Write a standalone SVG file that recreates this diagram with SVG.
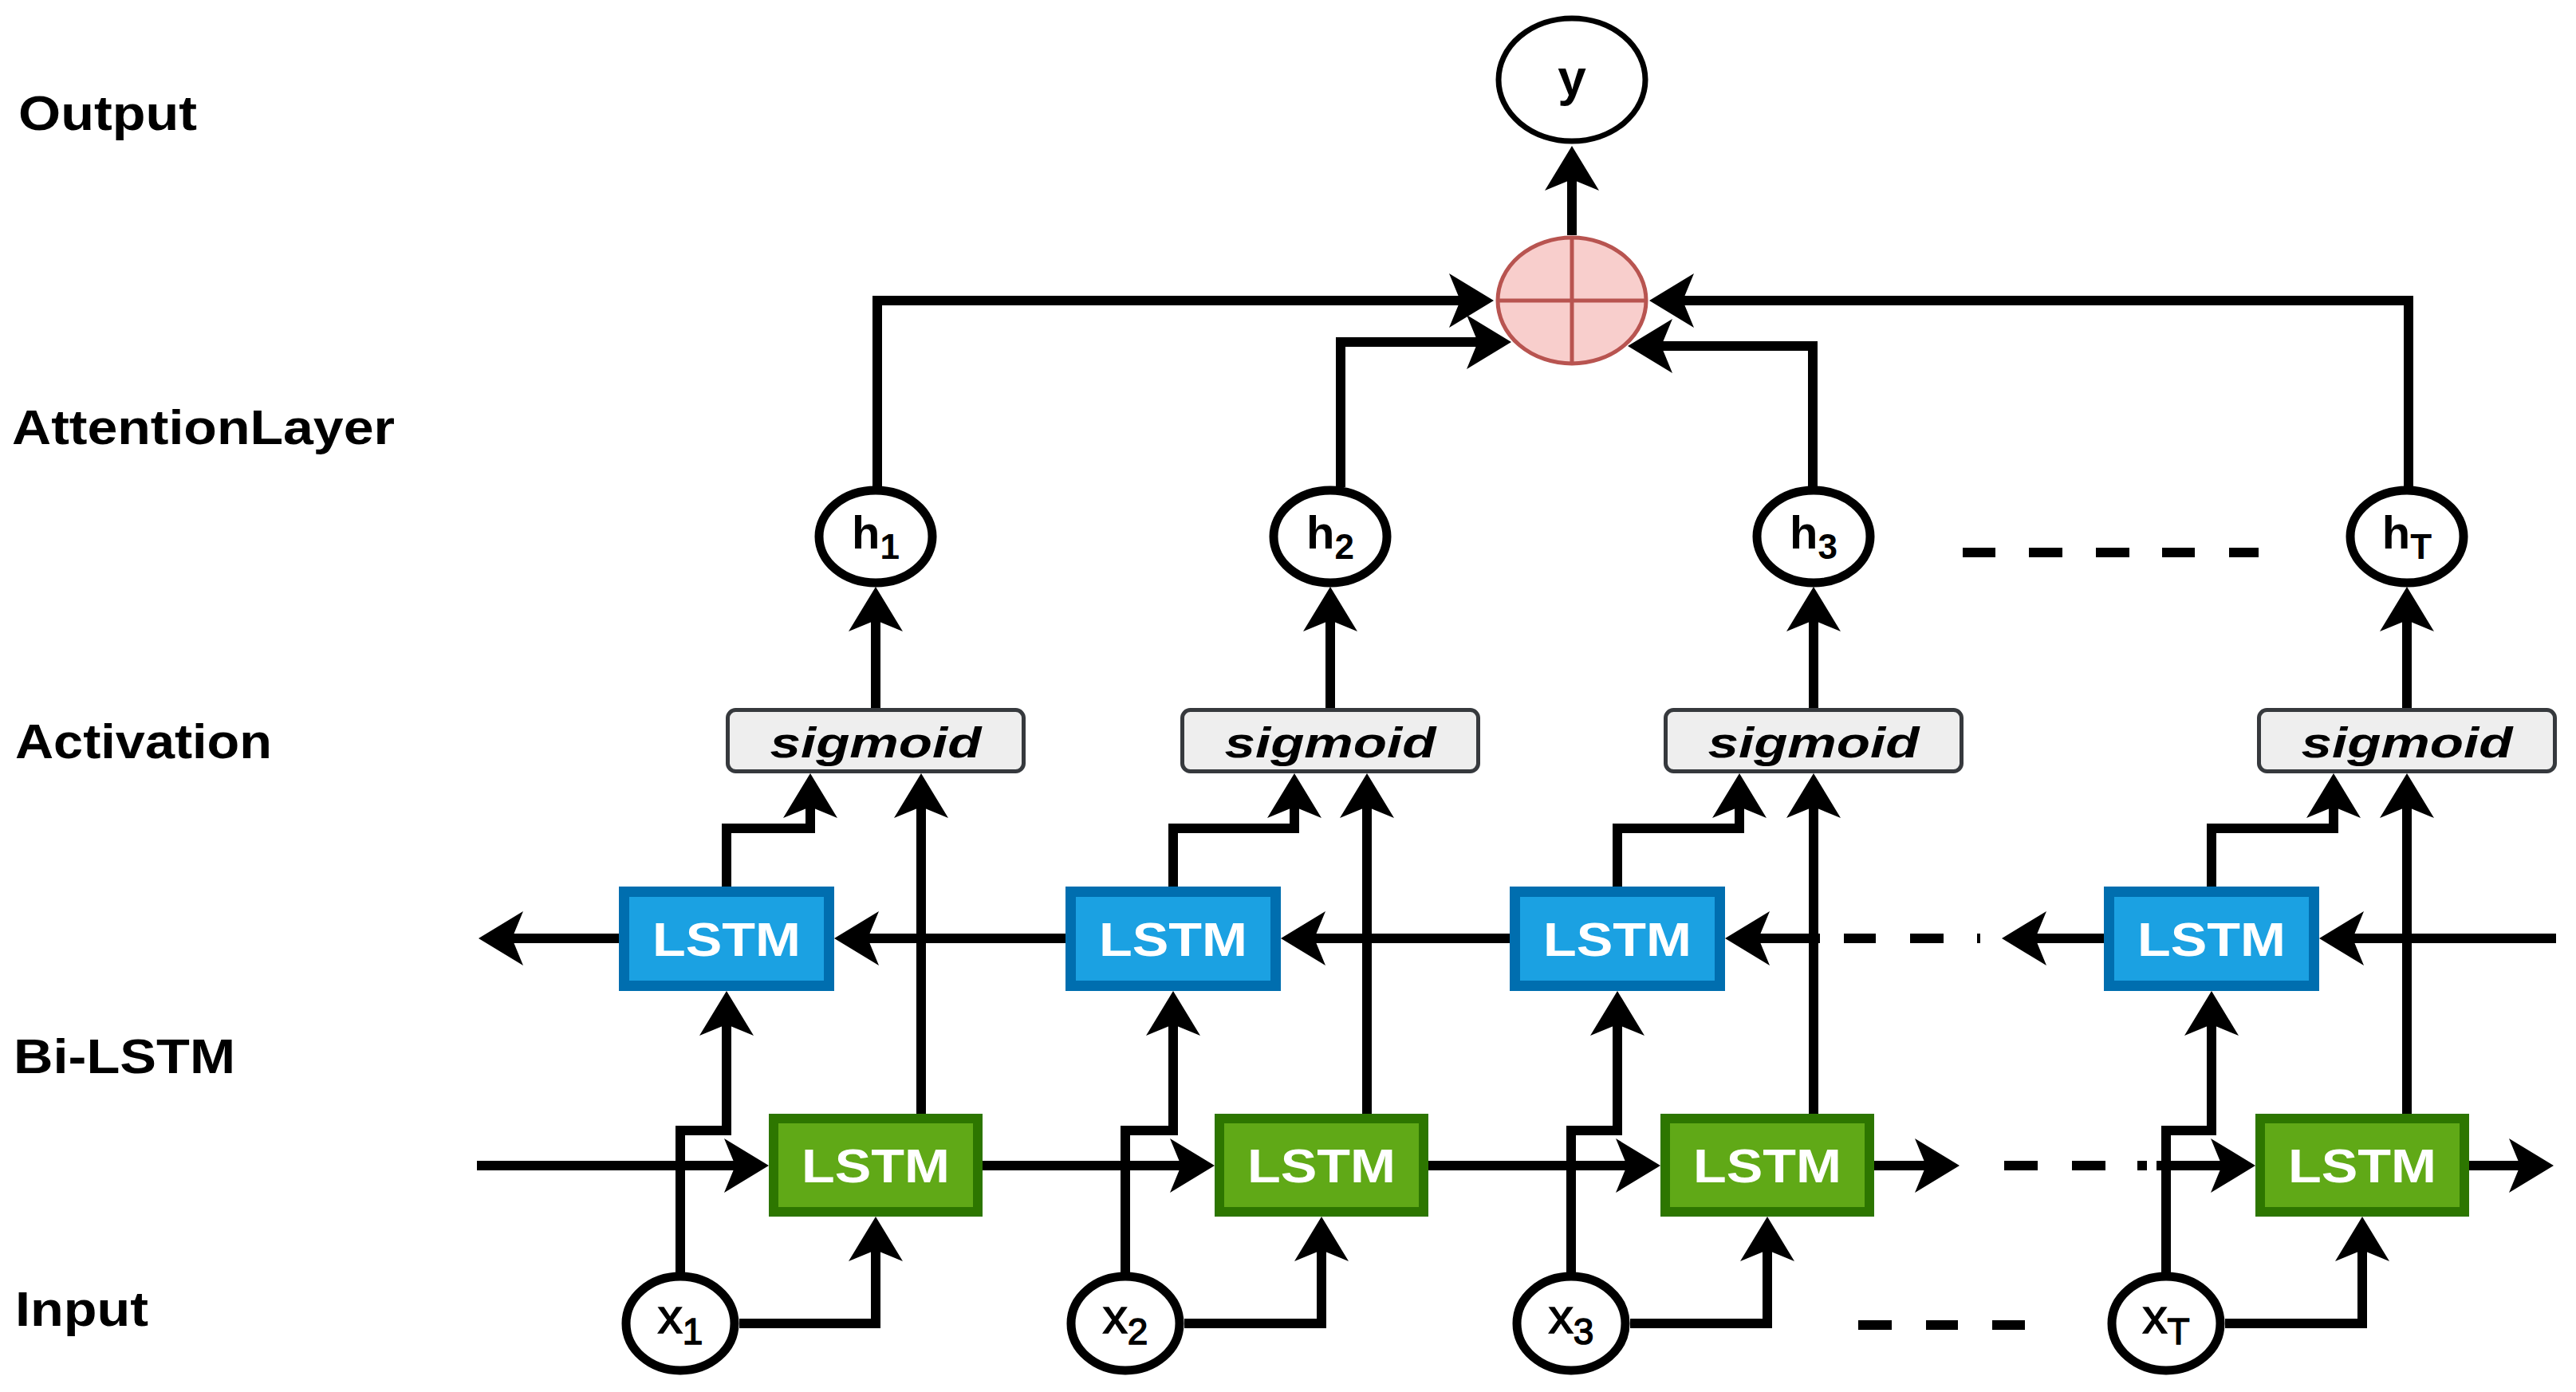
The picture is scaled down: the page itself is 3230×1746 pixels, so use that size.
<svg xmlns="http://www.w3.org/2000/svg" width="3230" height="1746" viewBox="0 0 3230 1746">
<style>
.lbl{font-family:"Liberation Sans",Arial,sans-serif;font-weight:bold;font-size:62px;fill:#000}
.con{fill:none;stroke:#000;stroke-width:12;stroke-linejoin:miter}
.dash{stroke:#000;stroke-width:12}
.blue{fill:#1ba1e2;stroke:#006eaf;stroke-width:13}
.green{fill:#60a917;stroke:#2d7600;stroke-width:12}
.lstm{font-family:"Liberation Sans",Arial,sans-serif;font-weight:bold;font-size:60px;fill:#fff;text-anchor:middle}
.sig{fill:#eeeeee;stroke:#36393d;stroke-width:5}
.sigt{font-family:"Liberation Sans",Arial,sans-serif;font-weight:bold;font-style:italic;font-size:54px;fill:#000;text-anchor:middle}
.circ{fill:#fff;stroke:#000;stroke-width:11}
.ht{font-family:"Liberation Sans",Arial,sans-serif;font-weight:bold;font-size:58px;fill:#000;text-anchor:middle}
.xt{font-family:"Liberation Sans",Arial,sans-serif;font-size:62px;fill:#000;text-anchor:middle;stroke:#000;stroke-width:1.5}
</style>
<defs>
<marker id="ah" markerUnits="userSpaceOnUse" markerWidth="120" markerHeight="120" viewBox="-60 -60 120 120" refX="0" refY="0" orient="auto">
<path d="M30,0 L-26,-34 L-12,0 L-26,34 Z" fill="#000"/>
</marker>
</defs>
<rect width="3230" height="1746" fill="#fff"/>

<g id="layer-labels">
<text class="lbl" x="23" y="163" textLength="224" lengthAdjust="spacingAndGlyphs">Output</text>
<text class="lbl" x="15" y="557" textLength="480" lengthAdjust="spacingAndGlyphs">AttentionLayer</text>
<text class="lbl" x="19" y="951" textLength="322" lengthAdjust="spacingAndGlyphs">Activation</text>
<text class="lbl" x="17" y="1346" textLength="278" lengthAdjust="spacingAndGlyphs">Bi-LSTM</text>
<text class="lbl" x="19" y="1663" textLength="167" lengthAdjust="spacingAndGlyphs">Input</text>
</g>

<g id="connectors">
<path class="con" marker-end="url(#ah)" d="M1971,295 V213"/>
<path class="con" marker-end="url(#ah)" d="M1100,611 V377 H1843"/>
<path class="con" marker-end="url(#ah)" d="M1681,611 V429 H1865"/>
<path class="con" marker-end="url(#ah)" d="M2273,611 V434 H2071"/>
<path class="con" marker-end="url(#ah)" d="M3020,611 V377 H2098"/>

<path class="con" marker-end="url(#ah)" d="M1098,888 V766"/>
<path class="con" marker-end="url(#ah)" d="M1668,888 V766"/>
<path class="con" marker-end="url(#ah)" d="M2274,888 V766"/>
<path class="con" marker-end="url(#ah)" d="M3018,888 V766"/>

<path class="con" marker-end="url(#ah)" d="M911,1112 V1039 H1016 V1000"/>
<path class="con" marker-end="url(#ah)" d="M1471,1112 V1039 H1623 V1000"/>
<path class="con" marker-end="url(#ah)" d="M2028,1112 V1039 H2181 V1000"/>
<path class="con" marker-end="url(#ah)" d="M2773,1112 V1039 H2926 V1000"/>

<path class="con" marker-end="url(#ah)" d="M1155,1397 V1000"/>
<path class="con" marker-end="url(#ah)" d="M1714,1397 V1000"/>
<path class="con" marker-end="url(#ah)" d="M2274,1397 V1000"/>
<path class="con" marker-end="url(#ah)" d="M3018,1397 V1000"/>

<path class="con" marker-end="url(#ah)" d="M853,1596 V1418 H911 V1273"/>
<path class="con" marker-end="url(#ah)" d="M1411,1596 V1418 H1471 V1273"/>
<path class="con" marker-end="url(#ah)" d="M1970,1596 V1418 H2028 V1273"/>
<path class="con" marker-end="url(#ah)" d="M2716,1596 V1418 H2773 V1273"/>

<path class="con" marker-end="url(#ah)" d="M927,1660 H1098 V1556"/>
<path class="con" marker-end="url(#ah)" d="M1485,1660 H1657 V1556"/>
<path class="con" marker-end="url(#ah)" d="M2044,1660 H2216 V1556"/>
<path class="con" marker-end="url(#ah)" d="M2790,1660 H2962 V1556"/>

<path class="con" marker-end="url(#ah)" d="M598,1462 H934"/>
<path class="con" marker-end="url(#ah)" d="M1232,1462 H1493"/>
<path class="con" marker-end="url(#ah)" d="M1791,1462 H2052"/>
<path class="con" marker-end="url(#ah)" d="M2350,1462 H2427"/>
<line class="dash" x1="2513" y1="1462" x2="2555" y2="1462"/>
<line class="dash" x1="2598" y1="1462" x2="2640" y2="1462"/>
<line class="dash" x1="2680" y1="1462" x2="2692" y2="1462"/>
<path class="con" marker-end="url(#ah)" d="M2704,1462 H2798"/>
<path class="con" marker-end="url(#ah)" d="M3096,1462 H3172"/>

<path class="con" marker-end="url(#ah)" d="M776,1177 H630"/>
<path class="con" marker-end="url(#ah)" d="M1336,1177 H1076"/>
<path class="con" marker-end="url(#ah)" d="M1893,1177 H1636"/>
<path class="con" marker-end="url(#ah)" d="M2282,1177 H2193"/>
<line class="dash" x1="2312" y1="1177" x2="2352" y2="1177"/>
<line class="dash" x1="2395" y1="1177" x2="2437" y2="1177"/>
<line class="dash" x1="2479" y1="1177" x2="2483" y2="1177"/>
<path class="con" marker-end="url(#ah)" d="M2638,1177 H2540"/>
<path class="con" marker-end="url(#ah)" d="M3205,1177 H2938"/>

<line class="dash" x1="2461" y1="693" x2="2502" y2="693"/>
<line class="dash" x1="2544" y1="693" x2="2586" y2="693"/>
<line class="dash" x1="2628" y1="693" x2="2670" y2="693"/>
<line class="dash" x1="2711" y1="693" x2="2752" y2="693"/>
<line class="dash" x1="2795" y1="693" x2="2832" y2="693"/>

<line class="dash" x1="2330" y1="1662" x2="2372" y2="1662"/>
<line class="dash" x1="2415" y1="1662" x2="2455" y2="1662"/>
<line class="dash" x1="2498" y1="1662" x2="2539" y2="1662"/>
</g>

<g id="node-y">
<ellipse cx="1971" cy="100" rx="92" ry="77" fill="#fff" stroke="#000" stroke-width="7"/>
<text x="1971" y="120" font-family="Liberation Sans, Arial, sans-serif" font-weight="bold" font-size="64" text-anchor="middle">y</text>
</g>
<g id="node-sum">
<ellipse cx="1971" cy="377" rx="93" ry="79" fill="#f8cecc" stroke="#b85450" stroke-width="5"/>
<line x1="1878" y1="377" x2="2064" y2="377" stroke="#b85450" stroke-width="5"/>
<line x1="1971" y1="298" x2="1971" y2="456" stroke="#b85450" stroke-width="5"/>
</g>

<g id="node-h1"><ellipse class="circ" cx="1098" cy="673" rx="71" ry="58"/><text class="ht" x="1098" y="688">h<tspan font-size="44" dy="13">1</tspan></text></g>
<g id="node-h2"><ellipse class="circ" cx="1668" cy="673" rx="71" ry="58"/><text class="ht" x="1668" y="688">h<tspan font-size="44" dy="13">2</tspan></text></g>
<g id="node-h3"><ellipse class="circ" cx="2274" cy="673" rx="71" ry="58"/><text class="ht" x="2274" y="688">h<tspan font-size="44" dy="13">3</tspan></text></g>
<g id="node-hT"><ellipse class="circ" cx="3018" cy="673" rx="71" ry="58"/><text class="ht" x="3018" y="688">h<tspan font-size="44" dy="13">T</tspan></text></g>

<g id="node-sig1"><rect class="sig" x="912.5" y="890.5" width="371" height="77" rx="10"/><text class="sigt" x="1098" y="950" textLength="265" lengthAdjust="spacingAndGlyphs">sigmoid</text></g>
<g id="node-sig2"><rect class="sig" x="1482.5" y="890.5" width="371" height="77" rx="10"/><text class="sigt" x="1668" y="950" textLength="265" lengthAdjust="spacingAndGlyphs">sigmoid</text></g>
<g id="node-sig3"><rect class="sig" x="2088.5" y="890.5" width="371" height="77" rx="10"/><text class="sigt" x="2274" y="950" textLength="265" lengthAdjust="spacingAndGlyphs">sigmoid</text></g>
<g id="node-sig4"><rect class="sig" x="2832.5" y="890.5" width="371" height="77" rx="10"/><text class="sigt" x="3018" y="950" textLength="265" lengthAdjust="spacingAndGlyphs">sigmoid</text></g>

<g id="node-bw1"><rect class="blue" x="782.5" y="1118.5" width="257" height="118"/><text class="lstm" x="911" y="1199" textLength="186" lengthAdjust="spacingAndGlyphs">LSTM</text></g>
<g id="node-bw2"><rect class="blue" x="1342.5" y="1118.5" width="257" height="118"/><text class="lstm" x="1471" y="1199" textLength="186" lengthAdjust="spacingAndGlyphs">LSTM</text></g>
<g id="node-bw3"><rect class="blue" x="1899.5" y="1118.5" width="257" height="118"/><text class="lstm" x="2028" y="1199" textLength="186" lengthAdjust="spacingAndGlyphs">LSTM</text></g>
<g id="node-bw4"><rect class="blue" x="2644.5" y="1118.5" width="257" height="118"/><text class="lstm" x="2773" y="1199" textLength="186" lengthAdjust="spacingAndGlyphs">LSTM</text></g>

<g id="node-fw1"><rect class="green" x="970" y="1403" width="256" height="117"/><text class="lstm" x="1098" y="1483" textLength="186" lengthAdjust="spacingAndGlyphs">LSTM</text></g>
<g id="node-fw2"><rect class="green" x="1529" y="1403" width="256" height="117"/><text class="lstm" x="1657" y="1483" textLength="186" lengthAdjust="spacingAndGlyphs">LSTM</text></g>
<g id="node-fw3"><rect class="green" x="2088" y="1403" width="256" height="117"/><text class="lstm" x="2216" y="1483" textLength="186" lengthAdjust="spacingAndGlyphs">LSTM</text></g>
<g id="node-fw4"><rect class="green" x="2834" y="1403" width="256" height="117"/><text class="lstm" x="2962" y="1483" textLength="186" lengthAdjust="spacingAndGlyphs">LSTM</text></g>

<g id="node-x1"><ellipse class="circ" cx="853" cy="1660" rx="68" ry="59"/><text class="xt" x="853" y="1672">x<tspan font-size="46" dy="14">1</tspan></text></g>
<g id="node-x2"><ellipse class="circ" cx="1411" cy="1660" rx="68" ry="59"/><text class="xt" x="1411" y="1672">x<tspan font-size="46" dy="14">2</tspan></text></g>
<g id="node-x3"><ellipse class="circ" cx="1970" cy="1660" rx="68" ry="59"/><text class="xt" x="1970" y="1672">x<tspan font-size="46" dy="14">3</tspan></text></g>
<g id="node-xT"><ellipse class="circ" cx="2716" cy="1660" rx="68" ry="59"/><text class="xt" x="2716" y="1672">x<tspan font-size="46" dy="14">T</tspan></text></g>
</svg>
